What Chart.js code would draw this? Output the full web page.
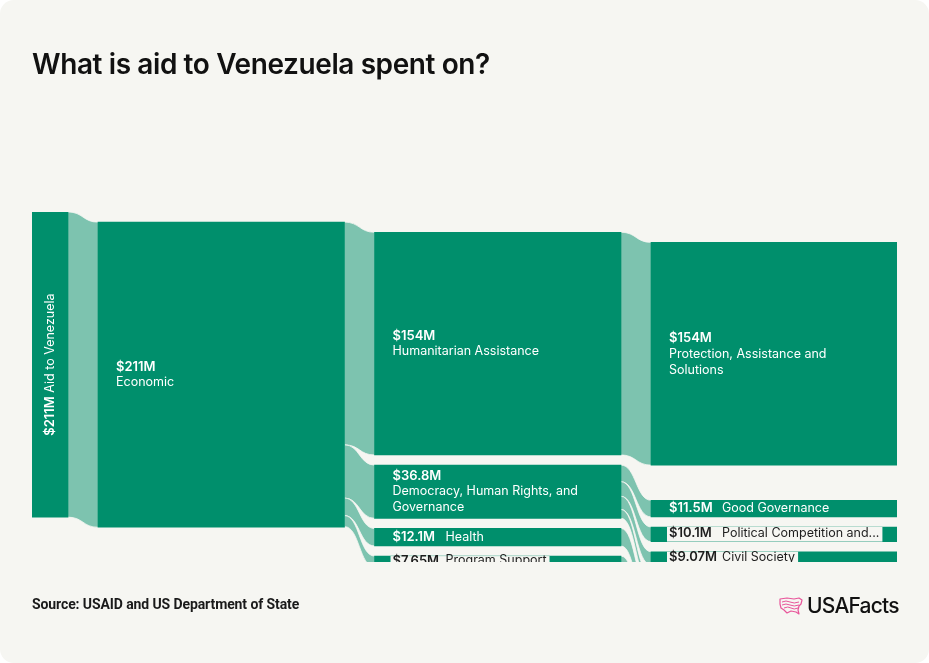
<!DOCTYPE html>
<html>
<head>
<meta charset="utf-8">
<script src="https://cdn.jsdelivr.net/npm/chart.js@4.4.0/dist/chart.umd.min.js"></script>
<style>
  html, body { margin: 0; padding: 0; background: #ffffff; }
  #card { position: relative; width: 929px; height: 663px; background: #f6f6f2; border-radius: 14px; overflow: hidden; font-family: Inter, "Noto Sans", sans-serif; }
  #title { position: absolute; left: 32px; top: 47px; margin: 0; font-size: 28px; font-weight: 600; letter-spacing: -0.4px; color: #111; }
  #chart { position: absolute; left: 0; top: 0; }
  #source { position: absolute; left: 32px; top: 596px; font-family: "Roboto", sans-serif; font-weight: 700; font-size: 14px; letter-spacing: -0.1px; color: #1a1a1a; }
  #logo { position: absolute; left: 779px; top: 593px; display: flex; align-items: center; }
  #logo span { font-family: Inter, sans-serif; font-weight: 500; font-size: 21px; letter-spacing: -0.8px; color: #111; margin-left: 3px; }
</style>
</head>
<body>
<div id="card">
  <canvas id="chart" width="929" height="663"></canvas>
  <h1 id="title">What is aid to Venezuela spent on?</h1>
  <div id="source">Source: USAID and US Department of State</div>
  <div id="logo">
    <svg width="25" height="20" viewBox="0 0 25 20">
      <path d="M1 3 L8 2 L15 3 L20 2 L23 4 L22 8 L20 10 L19 14 L20 18 L17 16 L12 15 L8 17 L5 14 L2 12 L1 8 Z" fill="none" stroke="#e8559a" stroke-width="1.2" stroke-linejoin="round"/>
      <path d="M3 6 Q7 4 11 6 T20 6 M3 9 Q7 7 11 9 T20 9 M5 12 Q9 10 12 12 T19 12" fill="none" stroke="#e8559a" stroke-width="1"/>
    </svg>
    <span>USAFacts</span>
  </div>
</div>
<script>
// nodes of the flow, column by column
const nodeNames = ['Aid to Venezuela', 'Economic', 'Humanitarian Assistance', 'Democracy, Human Rights, and Governance', 'Health', 'Program Support',
  'Protection, Assistance and Solutions', 'Good Governance', 'Political Competition and Consensus-Building', 'Civil Society',
  'Other Democracy, Human Rights, and Governance', 'Health (detail)', 'Program Support (detail)'];
const nodeValueLabels = ['$211M', '$211M', '$154M', '$36.8M', '$12.1M', '$7.65M', '$154M', '$11.5M', '$10.1M', '$9.07M', '$6.13M', '$12.1M', '$7.65M'];
const nodeValues = [211, 211, 154, 36.8, 12.1, 7.65, 154, 11.5, 10.1, 9.07, 6.13, 12.1, 7.65];
const nodeColumns = [0, 1, 2, 2, 2, 2, 3, 3, 3, 3, 3, 3, 3];

// flows between nodes
const linkFrom = [0, 1, 1, 1, 1, 2, 3, 3, 3, 3, 4, 5];
const linkTo = [1, 2, 3, 4, 5, 6, 7, 8, 9, 10, 11, 12];
const linkValues = [211, 154, 36.8, 12.1, 7.65, 154, 11.5, 10.1, 9.07, 6.13, 12.1, 7.65];

// layout (value units on the y scale, pixels on the x scale)
const nodePad = 7;
const columnShift = 7;
const extraGap = { 7: 17.3 };
const firstWidth = 36;
const nodeWidth = 246.5;
const linkGap = 30;

const green = '#008f6c';
const linkColor = '#7dc3af';
const bg = '#f6f6f2';

// stack nodes in each column
const nodeStart = [];
for (let c = 0; c <= 3; c++) {
  let y = c * columnShift;
  nodeColumns.forEach((col, i) => {
    if (col !== c) return;
    y += extraGap[i] || 0;
    nodeStart[i] = y;
    y += nodeValues[i] + nodePad;
  });
}
function colLeft(c) {
  if (c === 0) return 0;
  return firstWidth + linkGap + (c - 1) * (nodeWidth + linkGap);
}
function colWidth(c) { return c === 0 ? firstWidth : nodeWidth; }

const firstData = [], restData = [];
nodeValues.forEach((v, i) => {
  const c = nodeColumns[i];
  const pt = { x: colLeft(c) + colWidth(c) / 2, y: [nodeStart[i], nodeStart[i] + v] };
  (c === 0 ? firstData : restData).push(pt);
});

const linksPlugin = {
  id: 'links',
  beforeDatasetsDraw(chart) {
    const { ctx, chartArea, scales: { x, y } } = chart;
    const outOffset = {}, inOffset = {};
    ctx.save();
    ctx.beginPath();
    ctx.rect(chartArea.left, chartArea.top, chartArea.right - chartArea.left, chartArea.bottom - chartArea.top);
    ctx.clip();
    linkFrom.forEach((s, k) => {
      const t = linkTo[k];
      const v = linkValues[k];
      const so = outOffset[s] || 0, to = inOffset[t] || 0;
      outOffset[s] = so + v; inOffset[t] = to + v;
      const x0 = x.getPixelForValue(colLeft(nodeColumns[s]) + colWidth(nodeColumns[s]));
      const x1 = x.getPixelForValue(colLeft(nodeColumns[t]));
      const y0a = y.getPixelForValue(nodeStart[s] + so), y0b = y.getPixelForValue(nodeStart[s] + so + v);
      const y1a = y.getPixelForValue(nodeStart[t] + to), y1b = y.getPixelForValue(nodeStart[t] + to + v);
      const xm = (x0 + x1) / 2;
      ctx.beginPath();
      ctx.moveTo(x0, y0a);
      ctx.bezierCurveTo(xm, y0a, xm, y1a, x1, y1a);
      ctx.lineTo(x1, y1b);
      ctx.bezierCurveTo(xm, y1b, xm, y0b, x0, y0b);
      ctx.closePath();
      ctx.fillStyle = linkColor;
      ctx.fill();
      // thin separators along the curved edges
      ctx.strokeStyle = bg;
      ctx.lineWidth = 0.8;
      ctx.beginPath();
      ctx.moveTo(x0, y0a);
      ctx.bezierCurveTo(xm, y0a, xm, y1a, x1, y1a);
      ctx.moveTo(x1, y1b);
      ctx.bezierCurveTo(xm, y1b, xm, y0b, x0, y0b);
      ctx.stroke();
    });
    ctx.restore();
  }
};

function wrap(ctx, text, maxW) {
  const words = text.split(' ');
  const lines = [];
  let cur = '';
  words.forEach(w => {
    const test = cur ? cur + ' ' + w : w;
    if (ctx.measureText(test).width > maxW && cur) { lines.push(cur); cur = w; } else cur = test;
  });
  if (cur) lines.push(cur);
  return lines;
}
function truncate(ctx, text, maxW) {
  if (ctx.measureText(text).width <= maxW) return text;
  let t = text;
  while (t.length && ctx.measureText(t + '...').width > maxW) t = t.slice(0, -1);
  return t.trimEnd() + '...';
}

const boldFont = '600 13px Inter, sans-serif';
const regFont = '400 12.5px Inter, sans-serif';

const labelsPlugin = {
  id: 'nodeLabels',
  afterDatasetsDraw(chart) {
    const { ctx, chartArea, scales: { x, y } } = chart;
    ctx.save();
    ctx.beginPath();
    ctx.rect(chartArea.left, chartArea.top, chartArea.right - chartArea.left, chartArea.bottom - chartArea.top);
    ctx.clip();
    ctx.textBaseline = 'middle';
    nodeValues.forEach((v, i) => {
      const c = nodeColumns[i];
      const left = x.getPixelForValue(colLeft(c));
      const top = y.getPixelForValue(nodeStart[i]);
      const bottom = y.getPixelForValue(nodeStart[i] + v);
      const h = bottom - top;
      const mid = (top + bottom) / 2;
      if (top > chartArea.bottom) return;
      if (c === 0) {
        ctx.save();
        ctx.translate(left + firstWidth / 2, mid);
        ctx.rotate(-Math.PI / 2);
        ctx.font = boldFont;
        const w1 = ctx.measureText(nodeValueLabels[i]).width;
        ctx.font = regFont;
        const rest = ' ' + nodeNames[i];
        const w2 = ctx.measureText(rest).width;
        const sx = -(w1 + w2) / 2;
        ctx.fillStyle = '#fff';
        ctx.textAlign = 'left';
        ctx.font = boldFont;
        ctx.fillText(nodeValueLabels[i], sx, 0);
        ctx.font = regFont;
        ctx.fillText(rest, sx + w1, 0);
        ctx.restore();
        return;
      }
      const tx = left + 18;
      ctx.textAlign = 'left';
      if (h >= 40) {
        ctx.font = regFont;
        const lines = wrap(ctx, nodeNames[i], 200);
        const n = lines.length + 1;
        let ly = mid - (n * 16) / 2 + 8;
        ctx.fillStyle = '#fff';
        ctx.font = boldFont;
        ctx.fillText(nodeValueLabels[i], tx, ly);
        ctx.font = regFont;
        lines.forEach(l => { ly += 16; ctx.fillText(l, tx, ly); });
      } else {
        const nx = left + 71;
        ctx.font = regFont;
        const name = truncate(ctx, nodeNames[i], 158);
        const nw = ctx.measureText(name).width;
        const ty = h >= 15.5 ? mid : mid - 1;
        if (h >= 15.5) {
          ctx.fillStyle = '#fff';
        } else {
          ctx.fillStyle = bg;
          ctx.fillRect(left + 16, top, nx + nw + 3 - (left + 16), h);
          ctx.fillStyle = '#1d1d1d';
        }
        ctx.font = boldFont;
        ctx.fillText(nodeValueLabels[i], tx, ty);
        ctx.font = regFont;
        ctx.fillText(name, nx, ty);
      }
    });
    ctx.restore();
  }
};

new Chart(document.getElementById('chart').getContext('2d'), {
  type: 'bar',
  data: {
    datasets: [
      { data: firstData, backgroundColor: green, barThickness: firstWidth, borderWidth: 0, clip: 0 },
      { data: restData, backgroundColor: green, barThickness: nodeWidth, borderWidth: 0, clip: 0 }
    ]
  },
  options: {
    responsive: false,
    animation: false,
    grouped: false,
    layout: { padding: { left: 32, right: 32, top: 212, bottom: 101 } },
    scales: {
      x: { type: 'linear', min: 0, max: 865, offset: false, display: false },
      y: { type: 'linear', min: 0, max: 242, reverse: true, display: false }
    },
    plugins: { legend: { display: false }, tooltip: { enabled: false } }
  },
  plugins: [linksPlugin, labelsPlugin]
});
</script>
</body>
</html>
